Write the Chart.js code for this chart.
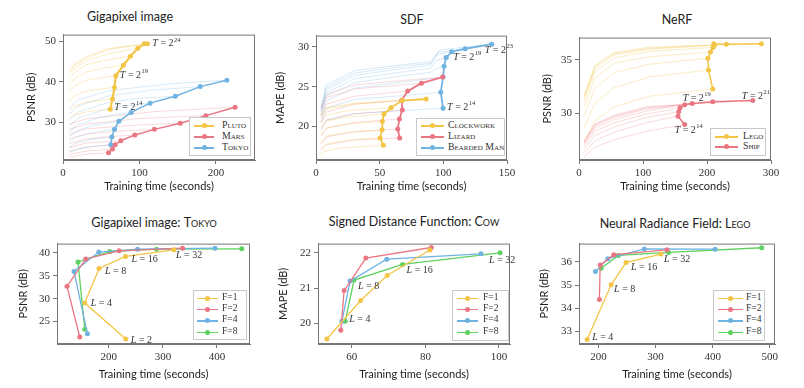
<!DOCTYPE html>
<html>
<head>
<meta charset="utf-8">
<script src="https://cdn.jsdelivr.net/npm/chart.js@4.4.1/dist/chart.umd.min.js"></script>
<style>
body { margin: 0; background: #fff; width: 804px; height: 388px; position: relative; overflow: hidden; }
.box { position: absolute; }
.ttl { position: absolute; transform: translateX(-50%); font: 12.5px Lato, sans-serif; color: #222; white-space: nowrap; }
.sc { font-variant: small-caps; }
.key { position: absolute; border: 1px solid #c8c8c8; background: #fff; box-sizing: border-box; }
.kt { position: absolute; height: 13px; line-height: 13px; font: 9.5px 'Liberation Serif', serif; color: #333; white-space: nowrap; }
.kt.sc { font-variant: small-caps; font-size: 9.8px; }
.kl { position: absolute; height: 1.5px; }
.kl::after { content: ''; position: absolute; left: 50%; top: -2px; width: 5px; height: 5px; margin-left: -2.5px; border-radius: 50%; background: inherit; }
</style>
</head>
<body>
<div class="ttl" style="left:130px;top:9px">Gigapixel image</div>
<div class="ttl" style="left:412px;top:12px">SDF</div>
<div class="ttl" style="left:677px;top:12px">NeRF</div>
<div class="ttl" style="left:154px;top:215px">Gigapixel image: <span class="sc">Tokyo</span></div>
<div class="ttl" style="left:414px;top:214px">Signed Distance Function: <span class="sc">Cow</span></div>
<div class="ttl" style="left:675px;top:216px">Neural Radiance Field: <span class="sc">Lego</span></div>

<script>
// --- Gigapixel image (top left)
const gigaXTicks = [0, 100, 200];
const gigaYTicks = [30, 40, 50];
const plutoX = [61.7, 64.7, 67.3, 69.1, 79.0, 88.1, 97.8, 106.4, 110.3];
const plutoY = [33.2, 35.7, 38.6, 41.5, 44.1, 46.3, 48.3, 49.4, 49.4];
const marsX = [59.5, 64.7, 68.2, 75.6, 93.9, 119.5, 153.3, 186.8, 225.0];
const marsY = [22.4, 23.3, 24.4, 25.4, 26.8, 28.2, 29.7, 31.6, 33.7];
const tokyoX = [62.5, 63.8, 67.3, 73.0, 89.0, 113.8, 146.8, 179.4, 214.2];
const tokyoY = [24.4, 26.3, 28.2, 30.2, 32.4, 34.7, 36.4, 38.8, 40.4];
// training curves behind the markers, [time, psnr]
const plutoRuns = [
  [[8, 31], [15, 31.8], [30, 32.5], [45, 32.9], [61.7, 33.2]],
  [[8, 33], [15, 34], [30, 34.9], [45, 35.3], [64.7, 35.7]],
  [[8, 35.2], [15, 36.6], [30, 37.6], [45, 38.1], [67.3, 38.6]],
  [[8, 37.5], [15, 39], [30, 40.3], [50, 41], [69.1, 41.5]],
  [[8, 39.3], [15, 40.8], [30, 42.4], [55, 43.5], [79, 44.1]],
  [[8, 40.8], [15, 42.3], [30, 44.2], [60, 45.5], [88.1, 46.3]],
  [[8, 41.8], [15, 43.3], [30, 45.2], [60, 47], [97.8, 48.3]],
  [[8, 42.4], [15, 44], [30, 45.8], [60, 48], [106.4, 49.4]],
  [[8, 42.8], [15, 44.4], [30, 46.2], [60, 48.3], [110.3, 49.4]]
];
const marsRuns = [
  [[8, 21.3], [30, 22], [59.5, 22.4]],
  [[8, 22], [30, 22.8], [64.7, 23.3]],
  [[8, 22.8], [30, 23.8], [68.2, 24.4]],
  [[8, 23.6], [30, 24.8], [75.6, 25.4]],
  [[8, 24.6], [30, 25.8], [60, 26.4], [93.9, 26.8]],
  [[8, 25.8], [30, 27], [70, 27.7], [119.5, 28.2]],
  [[8, 27], [30, 28.3], [90, 29.2], [153.3, 29.7]],
  [[8, 28.2], [30, 29.5], [100, 30.9], [186.8, 31.6]],
  [[8, 29.5], [30, 30.8], [120, 32.6], [225, 33.7]]
];
const tokyoRuns = [
  [[8, 22.5], [20, 23.3], [40, 24], [62.5, 24.4]],
  [[8, 23.8], [20, 25], [40, 25.8], [63.8, 26.3]],
  [[8, 25], [20, 26.5], [40, 27.5], [67.3, 28.2]],
  [[8, 26.3], [20, 28], [40, 29.2], [73, 30.2]],
  [[8, 27.6], [20, 29.4], [50, 31.3], [89, 32.4]],
  [[8, 29], [20, 31], [60, 33.4], [113.8, 34.7]],
  [[8, 30.5], [20, 32.5], [60, 34.9], [100, 35.9], [146.8, 36.4]],
  [[8, 32], [20, 34], [60, 36.5], [120, 38], [179.4, 38.8]],
  [[8, 33.5], [20, 35.5], [60, 37.8], [140, 39.5], [214.2, 40.4]]
];

// --- SDF (top middle)
const sdfXTicks = [0, 50, 100, 150];
const sdfYTicks = [20, 25, 30];
const clockX = [52.9, 50.3, 51.9, 52.1, 53.4, 58.9, 67.6, 86.5];
const clockY = [17.65, 18.56, 19.59, 20.65, 21.57, 22.35, 23.25, 23.45];
const lizardX = [65.7, 64.2, 65.5, 67.8, 67.3, 72.0, 82.8, 99.5];
const lizardY = [18.56, 19.7, 20.95, 22.06, 23.3, 24.44, 25.43, 26.2];
const beardX = [99.8, 98.0, 99.8, 100.6, 102.2, 106.6, 117.1, 138.0];
const beardY = [22.3, 24.3, 26.2, 27.57, 28.64, 29.38, 29.75, 30.33];
const clockRuns = [
  [[4, 16.4], [6, 16.9], [20, 17.3], [52.9, 17.65]],
  [[4, 17.2], [8, 17.8], [25, 18.3], [50.3, 18.56]],
  [[4, 18], [8, 18.8], [25, 19.3], [51.9, 19.59]],
  [[4, 19], [8, 19.8], [25, 20.3], [52.1, 20.65]],
  [[4, 19.8], [8, 20.7], [25, 21.2], [53.4, 21.57]],
  [[4, 20.5], [8, 21.4], [25, 22], [58.9, 22.35]],
  [[4, 21.2], [8, 22.2], [30, 22.8], [67.6, 23.25]],
  [[4, 21.5], [8, 22.4], [30, 22.9], [60, 23.2], [86.5, 23.45]]
];
const lizardRuns = [
  [[4, 17], [8, 17.7], [30, 18.3], [65.7, 18.56]],
  [[4, 17.8], [8, 18.7], [30, 19.3], [64.2, 19.7]],
  [[4, 18.8], [8, 19.8], [30, 20.5], [65.5, 20.95]],
  [[4, 19.7], [8, 20.8], [30, 21.6], [67.8, 22.06]],
  [[4, 20.5], [8, 21.8], [30, 22.8], [67.3, 23.3]],
  [[4, 21.3], [8, 22.8], [30, 23.8], [72, 24.44]],
  [[4, 22], [8, 23.6], [30, 24.7], [82.8, 25.43]],
  [[4, 22.3], [8, 24], [30, 25.2], [70, 25.8], [99.5, 26.2]]
];
const beardRuns = [
  [[4, 19.5], [8, 20.8], [30, 21.6], [70, 22], [99.8, 22.3]],
  [[4, 20.5], [8, 22.3], [30, 23.4], [70, 23.9], [98, 24.3]],
  [[4, 21], [8, 23.2], [30, 24.8], [70, 25.6], [99.8, 26.2]],
  [[4, 21.5], [8, 23.8], [30, 25.5], [70, 26.4], [90, 26.8], [95, 27.3], [100.6, 27.57]],
  [[4, 21.8], [8, 24.2], [30, 26], [70, 26.9], [90, 27.3], [95, 28.3], [102.2, 28.64]],
  [[4, 22], [8, 24.6], [30, 26.4], [70, 27.3], [90, 27.7], [95, 29], [106.6, 29.38]],
  [[4, 22.2], [8, 24.9], [30, 26.7], [70, 27.6], [90, 27.9], [96, 29.3], [117.1, 29.75]],
  [[4, 22.4], [8, 25.2], [30, 27], [70, 27.8], [90, 28.1], [97, 29.6], [138, 30.33]]
];

// --- NeRF (top right)
const nerfXTicks = [0, 100, 200, 300];
const nerfYTicks = [30, 35];
const legoX = [209.1, 202.4, 201.3, 205.5, 209.5, 211.7, 210.6, 230.3, 285.0];
const legoY = [32.26, 34.05, 35.16, 35.74, 36.18, 36.39, 36.52, 36.48, 36.52];
const shipX = [165.1, 154.7, 155.8, 157.8, 165.1, 176.9, 209.0, 271.6];
const shipY = [28.93, 29.72, 30.13, 30.5, 30.8, 30.9, 31.08, 31.2];
const legoRuns = [
  [[8, 27.3], [25, 29.3], [55, 30.6], [110, 31.6], [209.1, 32.26]],
  [[8, 28.6], [25, 31], [55, 32.4], [110, 33.4], [202.4, 34.05]],
  [[8, 29.8], [25, 32.4], [55, 33.8], [110, 34.6], [201.3, 35.16]],
  [[8, 30.6], [25, 33.3], [55, 34.7], [110, 35.3], [205.5, 35.74]],
  [[8, 31.1], [25, 33.9], [55, 35.2], [110, 35.8], [209.5, 36.18]],
  [[8, 31.4], [25, 34.2], [55, 35.5], [110, 36], [211.7, 36.39]],
  [[8, 31.6], [25, 34.4], [55, 35.6], [110, 36.1], [230.3, 36.48]],
  [[8, 31.7], [25, 34.5], [55, 35.7], [110, 36.2], [285, 36.52]]
];
const shipRuns = [
  [[8, 25.9], [25, 26.8], [55, 27.5], [105, 28.3], [165.1, 28.93]],
  [[8, 26.3], [25, 27.4], [55, 28.2], [105, 29.1], [154.7, 29.72]],
  [[8, 26.6], [25, 27.9], [55, 28.7], [105, 29.6], [155.8, 30.13]],
  [[8, 26.9], [25, 28.3], [55, 29.1], [105, 29.9], [157.8, 30.5]],
  [[8, 27.1], [25, 28.6], [55, 29.4], [105, 30.2], [165.1, 30.8]],
  [[8, 27.2], [25, 28.8], [55, 29.6], [105, 30.4], [176.9, 30.9]],
  [[8, 27.3], [25, 28.9], [55, 29.7], [105, 30.5], [209, 31.08]],
  [[8, 27.4], [25, 29], [55, 29.8], [105, 30.6], [271.6, 31.2]]
];

// --- bottom row: F = features per level, points are L = 2,4,8,16,32
const tokXTicks = [200, 300, 400];
const tokYTicks = [25, 30, 35, 40];
const tokF1X = [231.5, 155.6, 182.0, 230.9, 320.4];
const tokF1Y = [21.2, 29.04, 36.58, 39.2, 40.64];
const tokF2X = [146.3, 122.8, 157.4, 219.1, 336.5];
const tokF2Y = [21.62, 32.67, 38.65, 40.43, 41.0];
const tokF4X = [160.5, 135.7, 181.5, 253.1, 396.3];
const tokF4Y = [22.33, 35.94, 40.15, 40.79, 41.0];
const tokF8X = [155.6, 143.1, 201.9, 288.3, 445.7];
const tokF8Y = [23.33, 38.0, 40.28, 40.79, 40.85];

const cowXTicks = [60, 80, 100];
const cowYTicks = [20, 21, 22];
const cowF1X = [53.2, 62.4, 69.6, 81.2];
const cowF1Y = [19.56, 20.65, 21.36, 22.08];
const cowF2X = [57.0, 57.9, 63.8, 81.6];
const cowF2Y = [19.81, 20.93, 21.85, 22.15];
const cowF4X = [57.3, 59.5, 69.5, 95.1];
const cowF4Y = [20.06, 21.2, 21.82, 21.97];
const cowF8X = [58.2, 60.6, 73.8, 100.3];
const cowF8Y = [20.06, 21.23, 21.67, 22.0];

const legXTicks = [200, 300, 400, 500];
const legYTicks = [33, 34, 35, 36];
const legF1X = [180.3, 222.2, 248.3, 309.4];
const legF1Y = [32.64, 35.01, 35.97, 36.34];
const legF2X = [201.7, 203.0, 226.9, 319.9];
const legF2Y = [34.37, 35.86, 36.31, 36.52];
const legF4X = [194.8, 216.4, 280.3, 404.2];
const legF4Y = [35.58, 36.14, 36.56, 36.55];
const legF8X = [204.7, 234.9, 322.9, 485.7];
const legF8Y = [35.72, 36.28, 36.41, 36.61];

const yellow = '#f3c547', red = '#ea7683', blue = '#70b3e3', green = '#5fd160';
const yellowFaint = 'rgba(243,197,71,0.32)';
const redFaint = 'rgba(234,118,131,0.28)';
const blueFaint = 'rgba(112,179,227,0.28)';

function series(xs, ys, color, width) {
  return {
    data: xs.map((x, i) => ({ x: x, y: ys[i] })),
    borderColor: color, backgroundColor: color, pointBackgroundColor: color,
    borderWidth: width, pointRadius: 2.5, pointBorderWidth: 0
  };
}
function runs(list, color) {
  return list.map(r => ({
    data: r.map(p => ({ x: p[0], y: p[1] })),
    borderColor: color, borderWidth: 1, pointRadius: 0
  }));
}

function framePlugin(notes) {
  return {
    id: 'frame',
    afterDatasetsDraw(chart) {
      const { ctx, chartArea: a, scales } = chart;
      ctx.save();
      ctx.strokeStyle = '#777';
      ctx.lineWidth = 1;
      ctx.strokeRect(a.left + 0.5, a.top + 0.5, a.right - a.left - 1, a.bottom - a.top - 1);
      ctx.fillStyle = '#333';
      ctx.textBaseline = 'middle';
      ctx.textAlign = 'left';
      (notes || []).forEach(n => {
        let px = scales.x.getPixelForValue(n.x) + n.dx;
        const py = scales.y.getPixelForValue(n.y) + n.dy;
        ctx.font = 'italic 10px "Liberation Serif"';
        ctx.fillText(n.v, px, py);
        px += ctx.measureText(n.v).width;
        ctx.font = '10px "Liberation Serif"';
        ctx.fillText(n.t, px, py);
        px += ctx.measureText(n.t).width;
        if (n.s) {
          ctx.font = '6.5px "Liberation Serif"';
          ctx.fillText(n.s, px + 0.5, py - 4);
        }
      });
      ctx.restore();
    }
  };
}

function axis(min, max, ticks, title, size, horiz) {
  return {
    type: 'linear', min: min, max: max,
    afterBuildTicks: s => { s.ticks = ticks.map(v => ({ value: v })); },
    afterFit: s => { if (horiz) s.height = size; else s.width = size; },
    grid: { display: true, drawOnChartArea: false, drawTicks: true, tickLength: 4, color: '#777' },
    border: { display: true, color: '#777' },
    ticks: { font: { family: "'Liberation Serif', serif", size: 11 }, color: '#333', padding: 3, maxRotation: 0 },
    title: { display: true, text: title, font: { family: 'Lato', size: 11 }, color: '#222', padding: 4 }
  };
}

function makeChart(c) {
  const r = c.rect;
  const div = document.createElement('div');
  div.className = 'box';
  div.style.left = (r[0] - c.yw) + 'px';
  div.style.top = (r[1] - 8) + 'px';
  div.style.width = (c.yw + r[2] + 16) + 'px';
  div.style.height = (8 + r[3] + c.xh) + 'px';
  const cv = document.createElement('canvas');
  div.appendChild(cv);
  document.body.appendChild(div);
  new Chart(cv, {
    type: 'line',
    data: { datasets: c.sets },
    options: {
      responsive: true, maintainAspectRatio: false, animation: false,
      layout: { padding: { top: 8, right: 16, left: 0, bottom: 0 } },
      plugins: { legend: { display: false }, tooltip: { enabled: false } },
      elements: { line: { tension: 0 }, point: { hoverRadius: 0 } },
      scales: {
        x: axis(c.x[0], c.x[1], c.xTicks, 'Training time (seconds)', c.xh, true),
        y: axis(c.y[0], c.y[1], c.yTicks, c.yTitle, c.yw, false)
      }
    },
    plugins: [framePlugin(c.notes)]
  });
  makeKey(c.key);
}

function makeKey(k) {
  const b = document.createElement('div');
  b.className = 'key';
  b.style.left = k.box[0] + 'px';
  b.style.top = k.box[1] + 'px';
  b.style.width = k.box[2] + 'px';
  b.style.height = k.box[3] + 'px';
  document.body.appendChild(b);
  k.items.forEach((it, i) => {
    const y = k.rows[i];
    const l = document.createElement('i');
    l.className = 'kl';
    l.style.left = k.line[0] + 'px';
    l.style.width = (k.line[1] - k.line[0]) + 'px';
    l.style.top = (y - 0.75) + 'px';
    l.style.background = it[1];
    document.body.appendChild(l);
    const t = document.createElement('div');
    t.className = 'kt' + (k.caps ? ' sc' : '');
    t.style.left = k.text + 'px';
    t.style.top = (y - 7) + 'px';
    t.textContent = it[0];
    document.body.appendChild(t);
  });
}

makeChart({
  rect: [63, 33, 192, 127], yw: 42, xh: 37,
  x: [0, 251], y: [20.6, 51.7], xTicks: gigaXTicks, yTicks: gigaYTicks, yTitle: 'PSNR (dB)',
  sets: [series(plutoX, plutoY, yellow, 2.2), series(marsX, marsY, red, 1.5), series(tokyoX, tokyoY, blue, 1.5)]
    .concat(runs(plutoRuns, yellowFaint), runs(tokyoRuns, blueFaint), runs(marsRuns, redFaint)),
  notes: [
    { x: plutoX[8], y: plutoY[8], dx: 5, dy: 0, v: 'T', t: ' = 2', s: '24' },
    { x: plutoX[3], y: plutoY[3], dx: 4, dy: 0, v: 'T', t: ' = 2', s: '19' },
    { x: plutoX[0], y: plutoY[0], dx: 4, dy: -2, v: 'T', t: ' = 2', s: '14' }
  ],
  key: { box: [189, 117, 62, 39], rows: [126, 137, 148], line: [194, 214], text: 222, caps: true,
    items: [['Pluto', yellow], ['Mars', red], ['Tokyo', blue]] }
});

makeChart({
  rect: [316, 34, 191, 126], yw: 46, xh: 37,
  x: [0, 150], y: [15.8, 31.4], xTicks: sdfXTicks, yTicks: sdfYTicks, yTitle: 'MAPE (dB)',
  sets: [series(clockX, clockY, yellow, 1.8), series(lizardX, lizardY, red, 1.8), series(beardX, beardY, blue, 1.8)]
    .concat(runs(clockRuns, yellowFaint), runs(lizardRuns, redFaint), runs(beardRuns, blueFaint)),
  notes: [
    { x: beardX[7], y: beardY[7], dx: -7, dy: 6, v: 'T', t: ' = 2', s: '23' },
    { x: beardX[4], y: beardY[4], dx: 7, dy: 0, v: 'T', t: ' = 2', s: '19' },
    { x: beardX[0], y: beardY[0], dx: 4, dy: -1, v: 'T', t: ' = 2', s: '14' }
  ],
  key: { box: [416, 118, 89, 38], rows: [126, 137, 148], line: [421, 444], text: 448, caps: true,
    items: [['Clockwork', yellow], ['Lizard', red], ['Bearded Man', blue]] }
});

makeChart({
  rect: [579, 36, 192, 124], yw: 42, xh: 37,
  x: [0, 300], y: [25.6, 37.1], xTicks: nerfXTicks, yTicks: nerfYTicks, yTitle: 'PSNR (dB)',
  sets: [series(legoX, legoY, yellow, 1.5), series(shipX, shipY, red, 1.5)]
    .concat(runs(legoRuns, yellowFaint), runs(shipRuns, redFaint)),
  notes: [
    { x: shipX[4], y: shipY[4], dx: -2, dy: -6, v: 'T', t: ' = 2', s: '19' },
    { x: shipX[7], y: shipY[7], dx: -11, dy: -4, v: 'T', t: ' = 2', s: '21' },
    { x: shipX[0], y: shipY[0], dx: -10, dy: 6, v: 'T', t: ' = 2', s: '14' }
  ],
  key: { box: [710, 128, 56, 28], rows: [137, 147], line: [715, 738], text: 743, caps: true,
    items: [['Lego', yellow], ['Ship', red]] }
});

const fKeys = [['F=1', yellow], ['F=2', red], ['F=4', blue], ['F=8', green]];

makeChart({
  rect: [57, 242, 193, 102], yw: 44, xh: 41,
  x: [104.3, 461], y: [20.1, 42], xTicks: tokXTicks, yTicks: tokYTicks, yTitle: 'PSNR (dB)',
  sets: [series(tokF1X, tokF1Y, yellow, 1.3), series(tokF2X, tokF2Y, red, 1.3),
    series(tokF4X, tokF4Y, blue, 1.3), series(tokF8X, tokF8Y, green, 1.3)],
  notes: [
    { x: tokF1X[0], y: tokF1Y[0], dx: 5, dy: 1, v: 'L', t: ' = 2' },
    { x: tokF1X[1], y: tokF1Y[1], dx: 6, dy: 0, v: 'L', t: ' = 4' },
    { x: tokF1X[2], y: tokF1Y[2], dx: 6, dy: 3, v: 'L', t: ' = 8' },
    { x: tokF1X[3], y: tokF1Y[3], dx: 6, dy: 3, v: 'L', t: ' = 16' },
    { x: tokF1X[4], y: tokF1Y[4], dx: 2, dy: 6, v: 'L', t: ' = 32' }
  ],
  key: { box: [193, 290, 54, 50], rows: [298.5, 309.5, 321, 332.5], line: [197, 218], text: 222, caps: false, items: fKeys }
});

makeChart({
  rect: [318, 242, 192, 102], yw: 45, xh: 41,
  x: [50.8, 103], y: [19.42, 22.26], xTicks: cowXTicks, yTicks: cowYTicks, yTitle: 'MAPE (dB)',
  sets: [series(cowF1X, cowF1Y, yellow, 1.3), series(cowF2X, cowF2Y, red, 1.3),
    series(cowF4X, cowF4Y, blue, 1.3), series(cowF8X, cowF8Y, green, 1.3)],
  notes: [
    { x: cowF8X[0], y: cowF8Y[0], dx: 4, dy: -2, v: 'L', t: ' = 4' },
    { x: cowF8X[1], y: cowF8Y[1], dx: 4, dy: 6, v: 'L', t: ' = 8' },
    { x: cowF8X[2], y: cowF8Y[2], dx: 4, dy: 6, v: 'L', t: ' = 16' },
    { x: cowF8X[3], y: cowF8Y[3], dx: -11, dy: 8, v: 'L', t: ' = 32' }
  ],
  key: { box: [452, 290, 57, 51], rows: [298.5, 309.5, 321, 332.5], line: [457, 478], text: 483, caps: false, items: fKeys }
});

makeChart({
  rect: [579, 242, 196, 102], yw: 45, xh: 41,
  x: [166, 509], y: [32.45, 36.79], xTicks: legXTicks, yTicks: legYTicks, yTitle: 'PSNR (dB)',
  sets: [series(legF1X, legF1Y, yellow, 1.3), series(legF2X, legF2Y, red, 1.3),
    series(legF4X, legF4Y, blue, 1.3), series(legF8X, legF8Y, green, 1.3)],
  notes: [
    { x: legF1X[0], y: legF1Y[0], dx: 5, dy: -2, v: 'L', t: ' = 4' },
    { x: legF1X[1], y: legF1Y[1], dx: 3, dy: 5, v: 'L', t: ' = 8' },
    { x: legF1X[2], y: legF1Y[2], dx: 5, dy: 5, v: 'L', t: ' = 16' },
    { x: legF1X[3], y: legF1Y[3], dx: 3, dy: 5, v: 'L', t: ' = 32' }
  ],
  key: { box: [713, 290, 52, 51], rows: [298.5, 309.5, 321, 332.5], line: [718, 743], text: 746, caps: false, items: fKeys }
});
</script>
</body>
</html>
